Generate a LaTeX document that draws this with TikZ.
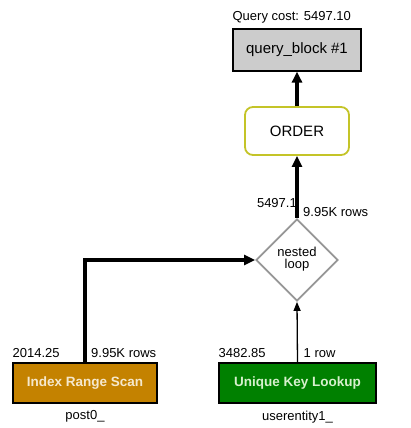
\documentclass[tikz,border=0pt]{standalone}
\usepackage{fontspec}
\setmainfont{Liberation Sans}
\usepackage{tikz}
\usetikzlibrary{positioning,calc,shapes.geometric,arrows.meta}
\definecolor{blockgray}{RGB}{204,204,204}
\definecolor{orderyellow}{RGB}{196,196,40}
\definecolor{loopgray}{RGB}{150,150,150}
\definecolor{scanorange}{RGB}{196,130,0}
\definecolor{scantext}{RGB}{245,232,205}
\definecolor{lookupgreen}{RGB}{0,128,0}
\definecolor{lookuptext}{RGB}{215,240,205}
\tikzset{
	query plan/.style={
		x=1pt,y=-1pt,
		font=\fontsize{13}{15}\selectfont,
		flow edge/.style={
			line width=3.5pt,
			-{Triangle[length=11pt,width=10pt]}
		},
		thin flow edge/.style={
			line width=1.3pt,
			-{Triangle[length=9pt,width=7pt]}
		}
	},
	block/.style={
		rectangle,
		draw,
		line width=1.2pt,
		fill=blockgray,
		minimum width=128pt,
		minimum height=42pt,
		font=\fontsize{15}{17}\selectfont
	},
	order op/.style={
		rectangle,
		rounded corners=8pt,
		draw=orderyellow,
		line width=1.8pt,
		fill=white,
		minimum width=104pt,
		minimum height=48pt,
		font=\fontsize{15}{17}\selectfont
	},
	join op/.style={
		diamond,
		draw=loopgray,
		line width=1.8pt,
		fill=white,
		inner sep=0pt,
		minimum width=82pt,
		minimum height=82pt,
		align=center
	},
	access/.style={
		rectangle,
		draw,
		line width=1.2pt,
		minimum height=40pt,
		font=\fontsize{13.5}{15}\selectfont\bfseries
	},
	cost/.style={
		inner sep=0pt
	}
}
\begin{document}
\begin{tikzpicture}[query plan]
	\useasboundingbox (0,0) rectangle (410,428);
	% operators
	\node[block] (qblock) at (297,50) {query\_block \#1};
	\node[order op] (order) at (297,131) {ORDER};
	\node[join op] (loop) at (297,260) {};
	\node[cost,align=center,font=\fontsize{13}{12}\selectfont] (looptext) at (297,259) {nested\\loop};
	\node[access,fill=scanorange,text=scantext,minimum width=144pt] (scan) at (85,383) {Index Range Scan};
	\node[access,fill=lookupgreen,text=lookuptext,minimum width=157pt] (lookup) at (297.5,383) {Unique Key Lookup};
	% tables
	\node[below=7pt of scan,cost] (scantable) {post0\_};
	\node[below=7pt of lookup,cost] (lookuptable) {userentity1\_};
	% costs and rows
	\node[cost,anchor=south west] (querycost) at ($(qblock.north west)+(0,-5)$) {Query cost: 5497.10};
	\node[cost,anchor=south west] (scancost) at ($(scan.north west)+(0,-5)$) {2014.25};
	\node[cost,anchor=south west] (scanrows) at ($(scan.north)+(6,-5)$) {9.95K rows};
	\node[cost,anchor=south west] (lookupcost) at ($(lookup.north west)+(0,-5)$) {3482.85};
	\node[cost,anchor=south west] (lookuprows) at ($(lookup.north)+(6,-5)$) {1 row};
	\node[cost,anchor=south east] (loopcost) at ($(loop.north)+(0,-10)$) {5497.1};
	\node[cost,anchor=south west] (looprows) at ($(loop.north)+(6,-1)$) {9.95K rows};
	% edges
	\draw[flow edge] (scan.north) |- (loop.west);
	\draw[thin flow edge] (lookup.north) -- (loop.south);
	\draw[flow edge] (loop.north) -- (order.south);
	\draw[flow edge] (order.north) -- (qblock.south);
\end{tikzpicture}
\end{document}
